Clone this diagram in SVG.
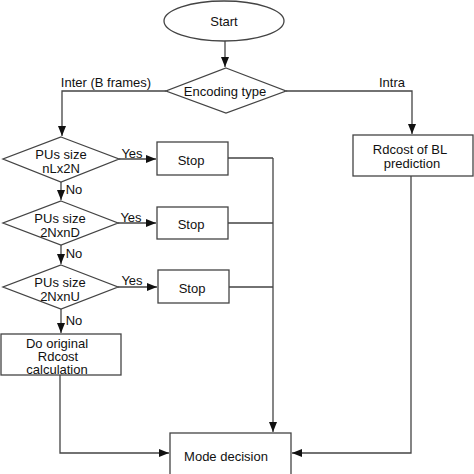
<svg xmlns="http://www.w3.org/2000/svg" width="474" height="474" viewBox="0 0 474 474">
<defs>
<marker id="arr" markerUnits="userSpaceOnUse" markerWidth="10" markerHeight="8" refX="10" refY="4" orient="auto">
<path d="M0,0 L10,4 L0,8 z" fill="#111"/>
</marker>
<style>
.s{fill:#fff;stroke:#444;stroke-width:1.3}
.c{fill:none;stroke:#444;stroke-width:1.3}
.t{font-family:"Liberation Sans",Arial,sans-serif;font-size:13px;fill:#111;text-anchor:middle;dominant-baseline:central}
</style>
</defs>
<rect width="474" height="474" fill="#fff"/>
<g id="connectors">
<path class="c" d="M225,40 V67" marker-end="url(#arr)"/>
<path class="c" d="M166,91 H62 V136" marker-end="url(#arr)"/>
<path class="c" d="M286,91 H412 V134" marker-end="url(#arr)"/>
<path class="c" d="M119,159 H156" marker-end="url(#arr)"/>
<path class="c" d="M118,223 H156" marker-end="url(#arr)"/>
<path class="c" d="M118,287 H157" marker-end="url(#arr)"/>
<path class="c" d="M61,182 V200" marker-end="url(#arr)"/>
<path class="c" d="M61,245 V264" marker-end="url(#arr)"/>
<path class="c" d="M61,309 V333" marker-end="url(#arr)"/>
<path class="c" d="M228,158 H273 M228,223 H273 M229,287 H273"/>
<path class="c" d="M273,158 V432" marker-end="url(#arr)"/>
<path class="c" d="M60,375 V453 H169" marker-end="url(#arr)"/>
<path class="c" d="M411,176 V453 H292" marker-end="url(#arr)"/>
<text class="t" x="106" y="82">Inter (B frames)</text>
<text class="t" x="392" y="82">Intra</text>
<text class="t" x="132" y="153">Yes</text>
<text class="t" x="131" y="217">Yes</text>
<text class="t" x="132" y="280">Yes</text>
<text class="t" x="74" y="189">No</text>
<text class="t" x="74" y="253">No</text>
<text class="t" x="74" y="320">No</text>
</g>
<g id="start">
<ellipse class="s" cx="224" cy="21" rx="60" ry="20"/>
<text class="t" x="224" y="21">Start</text>
</g>
<g id="encoding">
<polygon class="s" points="226,68 286,91 226,113 166,91"/>
<text class="t" x="225" y="91">Encoding type</text>
</g>
<g id="d1">
<polygon class="s" points="61,137 119,159 61,182 3,159"/>
<text class="t" x="61" y="154">PUs size</text>
<text class="t" x="61" y="168">nLx2N</text>
</g>
<g id="d2">
<polygon class="s" points="61,201 118,223 61,245 3,223"/>
<text class="t" x="60" y="218">PUs size</text>
<text class="t" x="60" y="232">2NxnD</text>
</g>
<g id="d3">
<polygon class="s" points="61,265 118,287 61,309 3,287"/>
<text class="t" x="60" y="282">PUs size</text>
<text class="t" x="60" y="296">2NxnU</text>
</g>
<g id="stop1">
<rect class="s" x="157" y="142" width="71" height="33"/>
<text class="t" x="191" y="160">Stop</text>
</g>
<g id="stop2">
<rect class="s" x="157" y="207" width="71" height="32"/>
<text class="t" x="191" y="224">Stop</text>
</g>
<g id="stop3">
<rect class="s" x="158" y="270" width="71" height="33"/>
<text class="t" x="192" y="288">Stop</text>
</g>
<g id="original">
<rect class="s" x="1" y="334" width="120" height="41"/>
<text class="t" x="57" y="343">Do original</text>
<text class="t" x="58" y="356">Rdcost</text>
<text class="t" x="57" y="369">calculation</text>
</g>
<g id="bl">
<rect class="s" x="353" y="135" width="120" height="41"/>
<text class="t" x="410" y="149">Rdcost of BL</text>
<text class="t" x="412" y="163">prediction</text>
</g>
<g id="mode">
<rect class="s" x="170" y="433" width="121" height="42"/>
<text class="t" x="226" y="456">Mode decision</text>
</g>
</svg>
